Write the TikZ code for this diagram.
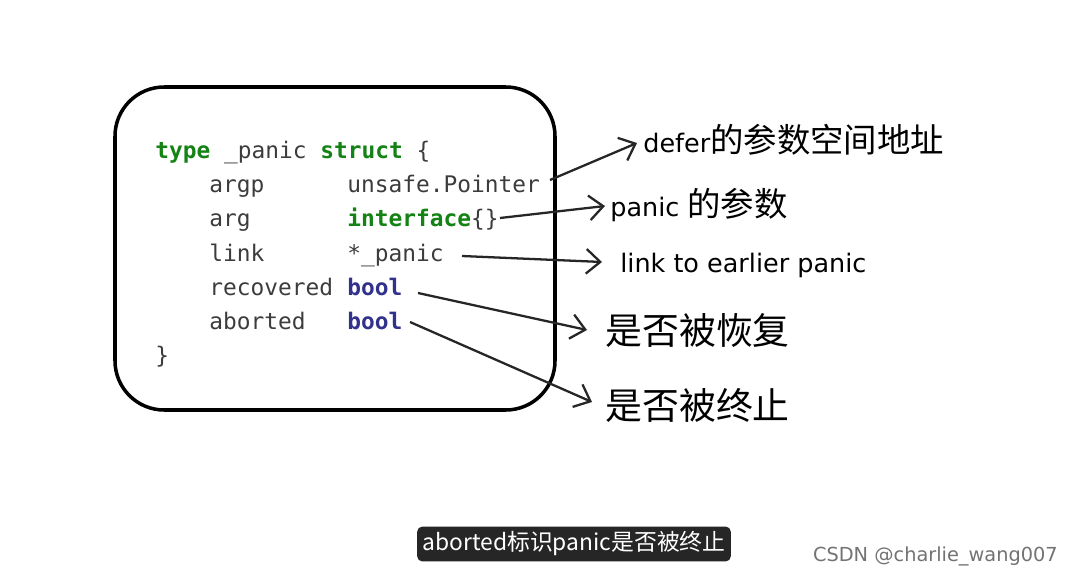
\documentclass[tikz,border=0pt]{standalone}
\usepackage{fontspec}
\setmonofont{DejaVu Sans Mono}
\setsansfont{DejaVu Sans}
\newfontfamily\cjk{Noto Sans CJK SC}
\definecolor{kw}{RGB}{20,130,20}
\definecolor{bl}{RGB}{50,50,140}
\definecolor{tx}{RGB}{60,60,60}
\tikzset{code/.style={anchor=base west,inner sep=0pt,font=\ttfamily\fontsize{13}{13}\selectfont,text=tx},
lab/.style={anchor=west,inner sep=0pt,text=black},
arr/.style={-{Straight Barb[length=8pt,width=14pt]},line width=1.3pt,draw=black!85}}
\usetikzlibrary{arrows.meta}
\begin{document}
\begin{tikzpicture}[x=0.02cm,y=-0.02cm]
\useasboundingbox (0,0) rectangle (1072,578);
\fill[white] (0,0) rectangle (1072,578);
\draw[line width=2pt,rounded corners=28pt] (115,87) rectangle (555,410);
\node[code] (l1) at (155,158) {\textcolor{kw}{\textbf{type}} \_panic \textcolor{kw}{\textbf{struct}} \{};
\node[code] (a1) at (209,192) {argp};
\node[code] (b1) at (347,192) {unsafe.Pointer};
\node[code] (a2) at (209,226) {arg};
\node[code] (b2) at (347,226) {\textcolor{kw}{\textbf{interface}}\{\}};
\node[code] (a3) at (209,261) {link};
\node[code] (b3) at (347,261) {*\_panic};
\node[code] (a4) at (209,295) {recovered};
\node[code] (b4) at (347,295) {\textcolor{bl}{\textbf{bool}}};
\node[code] (a5) at (209,329) {aborted};
\node[code] (b5) at (347,329) {\textcolor{bl}{\textbf{bool}}};
\node[code] (l7) at (155,363) {\}};
\node[lab,font=\sffamily\fontsize{14.5}{14.5}\selectfont] (t1) at (643,140) {defer{\cjk\fontsize{19}{19}\selectfont 的参数空间地址}};
\node[lab,font=\sffamily\fontsize{14.5}{14.5}\selectfont] (t2) at (610,205) {panic {\cjk\fontsize{19}{19}\selectfont 的参数}};
\node[lab,font=\sffamily\fontsize{14.5}{14.5}\selectfont] (t3) at (620,265) {link to earlier panic};
\node[lab,font=\cjk\fontsize{21}{21}\selectfont] (t4) at (605,330) {是否被恢复};
\node[lab,font=\cjk\fontsize{21}{21}\selectfont] (t5) at (605,405) {是否被终止};
\coordinate (s1) at (550,180); \coordinate (e1) at (637,143);
\coordinate (s2) at (500,218); \coordinate (e2) at (605,206);
\coordinate (s3) at (462,256); \coordinate (e3) at (602,262);
\coordinate (s4) at (418,293); \coordinate (e4) at (587,330);
\coordinate (s5) at (410,322); \coordinate (e5) at (592,402);
\draw[arr] (s1) -- (e1);
\draw[arr] (s2) -- (e2);
\draw[arr] (s3) -- (e3);
\draw[arr] (s4) -- (e4);
\draw[arr] (s5) -- (e5);
\node[fill=black!85,text=white,rounded corners=3pt,inner sep=3pt,font=\cjk\fontsize{13}{13}\selectfont] (sub) at (574,544) {aborted标识panic是否被终止};
\node[anchor=east,text=black!55,font=\sffamily\fontsize{11}{11}\selectfont,inner sep=0pt] (wm) at (1058,556) {CSDN @charlie\_wang007};
\end{tikzpicture}
\end{document}
